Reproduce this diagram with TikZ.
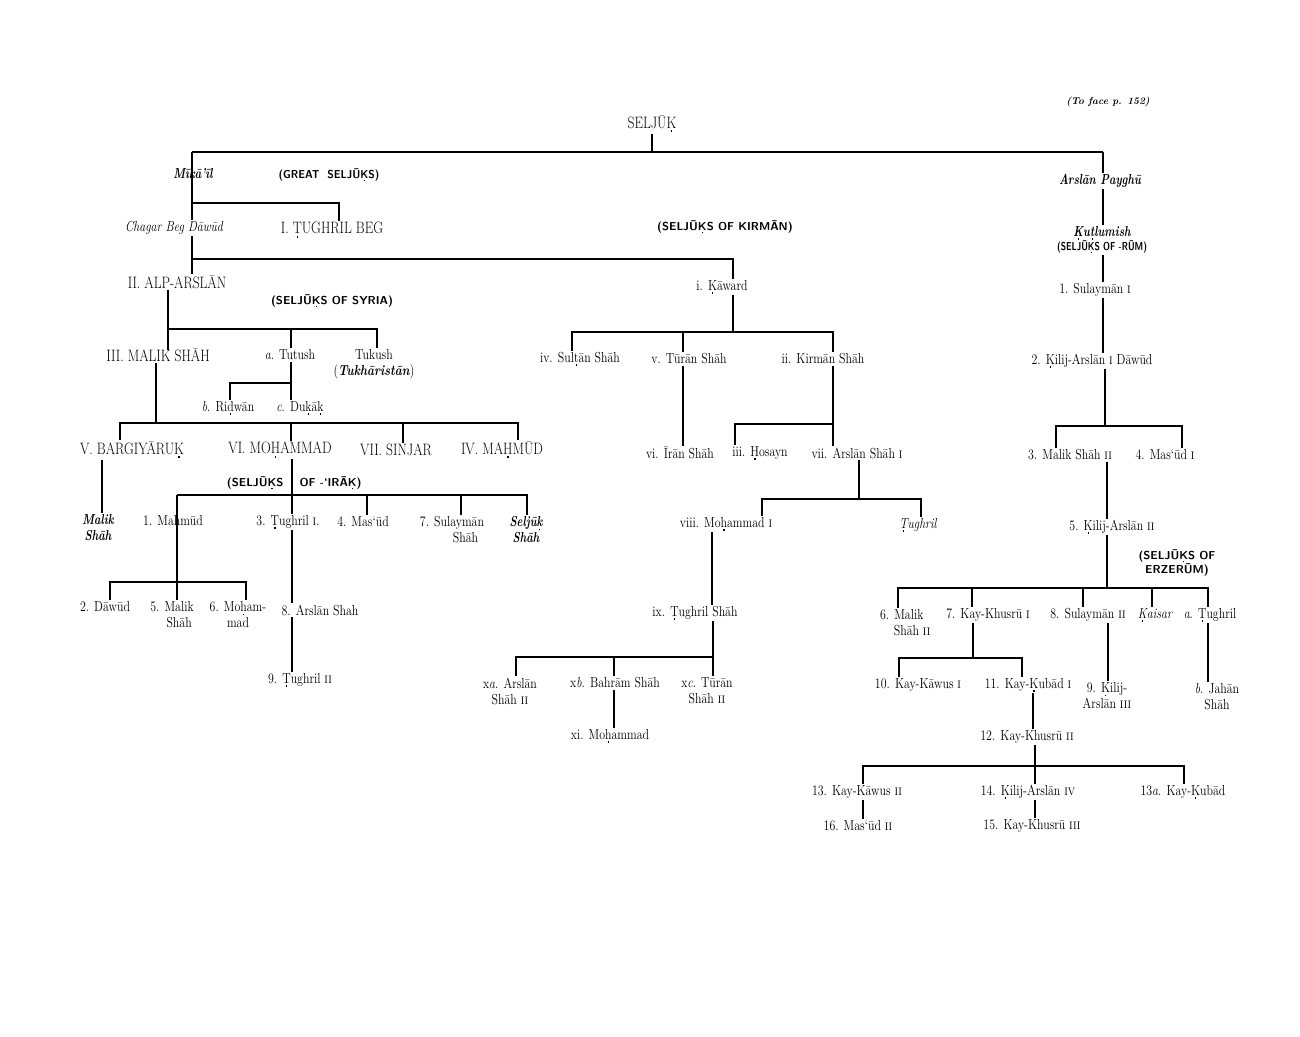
\documentclass[tikz,border=0pt]{standalone}
\usepackage{graphicx}
\newcommand\T[1]{\scalebox{.82}[1]{#1}}
\newcommand\TB[1]{\scalebox{.76}[1]{#1}}
\newcommand\db[1]{\oalign{#1\crcr\hidewidth\rule{.12em}{.12em}\hidewidth}}
\newcommand\rn[1]{\textsc{#1}}
\begin{document}
\begin{tikzpicture}[x=1pt,y=-1pt,
  every node/.style={inner sep=0pt,outer sep=1.5pt,align=center},
  capn/.style={font=\fontsize{16.5}{18}\selectfont},
  namen/.style={font=\fontsize{14.5}{16}\selectfont},
  itn/.style={font=\fontsize{14.5}{16}\selectfont\itshape},
  itb/.style={font=\fontsize{14.5}{16}\selectfont\bfseries\itshape},
  labn/.style={font=\fontsize{11.5}{13.5}\selectfont\sffamily\bfseries},
  facen/.style={font=\fontsize{10}{12}\selectfont\bfseries\itshape},
  ln/.style={line width=1.3pt,line cap=butt}]
\fill[white] (0,0) rectangle (1300,1036);
\useasboundingbox (0,0) rectangle (1300,1036);

% ---------------- nodes ----------------
\node[facen] (face) at (1108,102) {(To face p. 152)};
\node[capn] (seljuk) at (652,124) {\T{SELJŪ\db{K}}};
\node[itb] (mikail) at (193,174) {\TB{Mīkā’īl}};
\node[labn] (great) at (329,175) {\scalebox{.92}[1]{(GREAT\ \ SELJŪ\db{K}S)}};
\node[itb] (payghu) at (1100,181) {\TB{Arslān Payghū}};
\node[itn] (chagar) at (174,228) {\T{Chagar Beg Dāwūd}};
\node[capn] (tbeg) at (332,230) {\T{I. \db{T}UGHRIL BEG}};
\node[labn] (kirlab) at (725,227) {(SELJŪ\db{K}S OF KIRMĀN)};
\node[itb] (kutl) at (1102,233) {\TB{\db{K}u\db{t}lumish}};
\node[labn] (rumlab) at (1102,247) {\scalebox{.76}[1]{(SELJŪ\db{K}S OF -RŪM)}};
\node[capn] (alp) at (177,282) {\T{II. ALP-ARSLĀN}};
\node[namen] (kaward) at (722,287) {\T{i. \db{K}āward}};
\node[namen] (sul1) at (1095,290) {\T{1. Sulaymān \rn{i}}};
\node[labn] (syrlab) at (332,301) {(SELJŪ\db{K}S OF SYRIA)};

\node[capn] (malik3) at (158,355) {\T{III. MALIK SHĀH}};
\node[namen] (tutush) at (290,355) {\T{\textit{a}. Tutush}};
\node[namen] (tukush) at (374,364) {\T{Tukush}\\\T{(\textbf{\textit{Tukhāristān}})}};
\node[namen] (sultan) at (580,359) {\T{iv. Sul\db{t}ān Shāh}};
\node[namen] (turan) at (689,359) {\T{v. Tūrān Shāh}};
\node[namen] (kirman) at (823,359) {\T{ii. Kirmān Shāh}};
\node[namen] (kil1) at (1092,361) {\T{2. \db{K}ilij-Arslān \rn{i} Dāwūd}};
\node[namen] (ridwan) at (228,408) {\T{\textit{b}. Ri\db{d}wān}};
\node[namen] (dukak) at (300,408) {\T{\textit{c}. Du\db{k}ā\db{k}}};

\node[capn] (bark) at (132,450) {\T{V. BARGIYĀRU\db{K}}};
\node[capn] (moh) at (280,450) {\T{VI. MO\db{H}AMMAD}};
\node[capn] (sinjar) at (396,450) {\T{VII. SINJAR}};
\node[capn] (mahmud) at (502,450) {\T{IV. MA\db{H}MŪD}};
\node[namen] (iran) at (680,453) {\T{vi. Īrān Shāh}};
\node[namen] (hosayn) at (760,453) {\T{iii. \db{H}osayn}};
\node[namen] (ars7) at (857,453) {\T{vii. Arslān Shāh \rn{i}}};
\node[namen] (mal3) at (1070,455) {\T{3. Malik Shāh \rn{ii}}};
\node[namen] (mas1) at (1165,455) {\T{4. Mas‘ūd \rn{i}}};

\node[labn,anchor=east] (iraklabA) at (285,483) {(SELJŪ\db{K}S};
\node[labn,anchor=west] (iraklabB) at (298,483) {OF -‘IRĀ\db{K})};
\node[itb] (malikI) at (98,528) {\TB{Malik}\\\TB{Shāh}};
\node[namen] (mahmud1) at (173,522) {\T{1. Ma\db{h}mūd}};
\node[namen] (tugh1) at (288,522) {\T{3. \db{T}ughril \rn{i}.}};
\node[namen] (masud) at (363,522) {\T{4. Mas‘ūd}};
\node[namen] (sulsh) at (452,530) {\T{7. Sulaymān}\\\T{\hphantom{7. Su}Shāh}};
\node[itb] (seljsh) at (526,530) {\TB{Seljū\db{k}}\\\TB{Shāh}};
\node[namen] (moh8) at (726,524) {\T{viii. Mo\db{h}ammad \rn{i}}};
\node[itn] (tughit) at (918,525) {\T{\db{T}ughril}};
\node[namen] (kil2) at (1112,527) {\T{5. \db{K}ilij-Arslān \rn{ii}}};
\node[labn] (erzlab) at (1177,563) {(SELJŪ\db{K}S OF\\ERZERŪM)};

\node[namen] (dawud) at (105,607) {\T{2. Dāwūd}};
\node[namen] (malik5) at (172,615) {\T{5. Malik}\\\T{\hphantom{5. }Shāh}};
\node[namen] (moh6) at (238,615) {\T{6. Mo\db{h}am-}\\\T{mad}};
\node[namen] (ars8) at (320,610) {\T{8. Arslān Shah}};
\node[namen] (tsh) at (695,613) {\T{ix. \db{T}ughril Shāh}};
\node[namen] (mal6) at (905,623) {\T{6. Malik\hphantom{ii}}\\\T{\hphantom{6. }Shāh \rn{ii}}};
\node[namen] (kk1) at (988,615) {\T{7. Kay-Khusrū \rn{i}}};
\node[namen] (sul2) at (1088,615) {\T{8. Sulaymān \rn{ii}}};
\node[itn] (kaisar) at (1155,615) {\T{\db{K}aisar}};
\node[namen] (tugha) at (1210,615) {\T{\textit{a}. \db{T}ughril}};

\node[namen] (tugh2) at (300,680) {\T{9. \db{T}ughril \rn{ii}}};
\node[namen] (ars2) at (510,691) {\T{x\textit{a}. Arslān}\\\T{Shāh \rn{ii}}};
\node[namen] (bah) at (615,683) {\T{x\textit{b}. Bahrām Shāh}};
\node[namen] (tur2) at (707,691) {\T{x\textit{c}. Tūrān}\\\T{Shāh \rn{ii}}};
\node[namen] (kkw1) at (918,685) {\T{10. Kay-Kāwus \rn{i}}};
\node[namen] (kkb1) at (1028,685) {\T{11. Kay-\db{K}ubād \rn{i}}};
\node[namen] (kil3) at (1107,696) {\T{9. \db{K}ilij-}\\\T{Arslān \rn{iii}}};
\node[namen] (jahan) at (1217,697) {\T{\textit{b}. Jahān}\\\T{Shāh}};
\node[namen] (mohxi) at (610,736) {\T{xi. Mo\db{h}ammad}};
\node[namen] (kk2) at (1027,737) {\T{12. Kay-Khusrū \rn{ii}}};
\node[namen] (kkw2) at (857,792) {\T{13. Kay-Kāwus \rn{ii}}};
\node[namen] (kil4) at (1028,792) {\T{14. \db{K}ilij-Arslān \rn{iv}}};
\node[namen] (kkb13) at (1183,792) {\T{13\textit{a}. Kay-\db{K}ubād}};
\node[namen] (mas2) at (858,826) {\T{16. Mas‘ūd \rn{ii}}};
\node[namen] (kk3) at (1032,826) {\T{15. Kay-Khusrū \rn{iii}}};

% ---------------- connectors ----------------
% Seljuk
\coordinate (b0L) at (192,152); \coordinate (b0R) at (1103,152);
\draw[ln] (seljuk.south) -- (seljuk.south |- b0L);
\draw[ln,line width=1.6pt] (b0L) -- (b0R);
% Mika'il
\coordinate (b1L) at (192,203); \coordinate (b1R) at (339,203);
\draw[ln] (b0L) -- (b1L) -- (b1R) -- (b1R |- tbeg.north);
\draw[ln] (b1L) -- (b1L |- chagar.north);
% Chagar Beg
\coordinate (b2L) at (192,259); \coordinate (b2R) at (733,259);
\draw[ln] (b2L |- chagar.south) -- (b2L |- alp.north);
\draw[ln] (b2L) -- (b2R) -- (b2R |- kaward.north);
% Arslan Payghu
\draw[ln] (b0R) -- (b0R |- payghu.north);
\draw[ln] (b0R |- payghu.south) -- (b0R |- kutl.north);
\draw[ln] (b0R |- rumlab.south) -- (b0R |- sul1.north);
% Alp-Arslan
\coordinate (b3L) at (168,329); \coordinate (b3R) at (377,329); \coordinate (b3M) at (291,329);
\draw[ln] (b3L |- alp.south) -- (b3L) -- (b3R) -- (b3R |- tukush.north);
\draw[ln] (b3L) -- ++(0,21);
\draw[ln] (b3M) -- (b3M |- tutush.north);
% Tutush
\coordinate (b4L) at (230,383); \coordinate (b4R) at (291,383);
\draw[ln] (b4R |- tutush.south) -- (b4R |- dukak.north);
\draw[ln] (b4R) -- (b4L) -- (b4L |- ridwan.north);
% Malik Shah
\coordinate (b5L) at (120,423); \coordinate (b5R) at (518,423); \coordinate (b5M) at (156,423);
\coordinate (b5a) at (291,423); \coordinate (b5b) at (403,423);
\draw[ln] (b5M |- malik3.south) -- (b5M);
\draw[ln] (b5L |- bark.north) -- (b5L) -- (b5R) -- (b5R |- mahmud.north);
\draw[ln] (b5a) -- (b5a |- moh.north);
\draw[ln] (b5b) -- (b5b |- sinjar.north);
% Barkiyaruk
\draw[ln] (bark.south -| 102,0) -- (malikI.north -| 102,0);
% Mohammad
\coordinate (b6L) at (177,495); \coordinate (b6R) at (527,495); \coordinate (b6M) at (292,495);
\coordinate (b6a) at (367,495); \coordinate (b6b) at (461,495);
\draw[ln] (b6M |- moh.south) -- (b6M);
\draw[ln] (b6L) -- (b6R) -- (b6R |- seljsh.north);
\draw[ln] (b6L) -- (b6L |- malik5.north);
\draw[ln] (b6M) -- (b6M |- tugh1.north);
\draw[ln] (b6a) -- (b6a |- masud.north);
\draw[ln] (b6b) -- (b6b |- sulsh.north);
\draw[ln] (b6M |- tugh1.south) -- (b6M |- ars8.north);
\draw[ln] (b6M |- ars8.south) -- (b6M |- tugh2.north);
% Mahmud sons
\coordinate (b7L) at (110,582); \coordinate (b7R) at (246,582);
\draw[ln] (b7L |- dawud.north) -- (b7L) -- (b7R) -- (b7R |- moh6.north);
% Kaward
\coordinate (b8L) at (572,332); \coordinate (b8R) at (833,332); \coordinate (b8M) at (733,332);
\coordinate (b8T) at (683,332);
\draw[ln] (b8M |- kaward.south) -- (b8M);
\draw[ln] (b8L |- sultan.north) -- (b8L) -- (b8R) -- (b8R |- kirman.north);
\draw[ln] (b8T) -- (b8T |- turan.north);
\draw[ln] (b8T |- turan.south) -- (b8T |- iran.north);
% Kirman Shah
\coordinate (b9L) at (735,424); \coordinate (b9R) at (833,424);
\draw[ln] (b9R |- kirman.south) -- (b9R |- ars7.north);
\draw[ln] (b9R) -- (b9L) -- (b9L |- hosayn.north);
% Arslan Shah I
\coordinate (b10L) at (762,499); \coordinate (b10R) at (921,499); \coordinate (b10M) at (859,499);
\draw[ln] (b10M |- ars7.south) -- (b10M);
\draw[ln] (b10L |- moh8.north) -- (b10L) -- (b10R) -- (b10R |- tughit.north);
\draw[ln] (moh8.south -| 712,0) -- (tsh.north -| 712,0);
% Tughril Shah
\coordinate (b11L) at (516,657); \coordinate (b11R) at (713,657); \coordinate (b11M) at (614,657);
\draw[ln] (b11R |- tsh.south) -- (b11R |- tur2.north);
\draw[ln] (b11R) -- (b11L) -- (b11L |- ars2.north);
\draw[ln] (b11M) -- (b11M |- bah.north);
\draw[ln] (b11M |- bah.south) -- (b11M |- mohxi.north);
% Rum
\coordinate (b12L) at (1056,426); \coordinate (b12R) at (1182,426); \coordinate (b12M) at (1105,426);
\draw[ln] (sul1.south -| 1103,0) -- (kil1.north -| 1103,0);
\draw[ln] (b12M |- kil1.south) -- (b12M);
\draw[ln] (b12L |- mal3.north) -- (b12L) -- (b12R) -- (b12R |- mas1.north);
\draw[ln] (mal3.south -| 1107,0) -- (kil2.north -| 1107,0);
% Kilij-Arslan II
\coordinate (b13L) at (898,588); \coordinate (b13R) at (1208,588); \coordinate (b13M) at (1107,588);
\coordinate (b13a) at (972,588); \coordinate (b13b) at (1083,588); \coordinate (b13c) at (1152,588);
\draw[ln] (b13M |- kil2.south) -- (b13M);
\draw[ln] (b13L |- mal6.north) -- (b13L) -- (b13R) -- (b13R |- tugha.north);
\draw[ln] (b13a) -- (b13a |- kk1.north);
\draw[ln] (b13b) -- (b13b |- sul2.north);
\draw[ln] (b13c) -- (b13c |- kaisar.north);
\draw[ln] (sul2.south -| 1108,0) -- (kil3.north -| 1108,0);
\draw[ln] (b13R |- tugha.south) -- (b13R |- jahan.north);
% Kay-Khusru I
\coordinate (b14L) at (899,658); \coordinate (b14R) at (1022,658); \coordinate (b14M) at (973,658);
\draw[ln] (b14M |- kk1.south) -- (b14M);
\draw[ln] (b14L |- kkw1.north) -- (b14L) -- (b14R) -- (b14R |- kkb1.north);
\draw[ln] (kkb1.south -| 1033,0) -- (kk2.north -| 1033,0);
% Kay-Khusru II
\coordinate (b15L) at (863,766); \coordinate (b15R) at (1184,766); \coordinate (b15M) at (1035,766);
\draw[ln] (b15M |- kk2.south) -- (b15M) -- (b15M |- kil4.north);
\draw[ln] (b15L |- kkw2.north) -- (b15L) -- (b15R) -- (b15R |- kkb13.north);
\draw[ln] (b15L |- kkw2.south) -- (b15L |- mas2.north);
\draw[ln] (b15M |- kil4.south) -- (b15M |- kk3.north);
\end{tikzpicture}
\end{document}
